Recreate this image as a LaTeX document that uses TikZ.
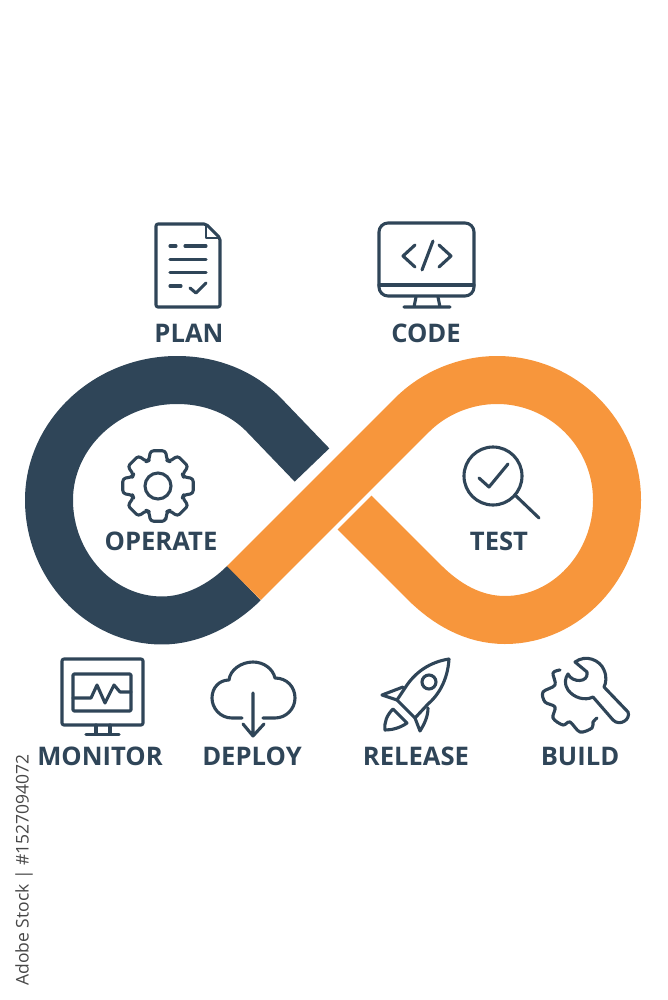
\documentclass[tikz,border=0pt]{standalone}
\usepackage{fontspec}
\setmainfont{Open Sans}
\usetikzlibrary{positioning}
\definecolor{navy}{HTML}{2F4558}
\definecolor{amber}{HTML}{F7963C}
\tikzset{
  band/.style={line width=48pt, line cap=butt, line join=round},
  icon/.style={draw=navy, line width=3.1pt, line cap=round, line join=round},
  thinicon/.style={icon, line width=2.6pt},
  lbl/.style={text=navy, font=\fontsize{25.6}{26}\selectfont\bfseries, inner sep=0pt},
  credit/.style={text=black!72, font=\fontsize{17.5}{18}\selectfont, rotate=90, inner sep=0pt}
}
\begin{document}
\begin{tikzpicture}[x=1pt, y=-1pt]
    \useasboundingbox (0,0) rectangle (667,1000);

    \draw[band, navy] (312,465) -- (263,414) .. controls (242,393) and (212,380) .. (177,380)
        .. controls (107,380) and (49,434) .. (49,500)
        .. controls (49,566) and (100,620.5) .. (162,620.5)
        .. controls (192,620.5) and (222,605) .. (244,583);
    \draw[band, amber] (244,583) -- (412,415) .. controls (434,393) and (465,380) .. (497,380)
        .. controls (563,380) and (617,434) .. (617,500)
        .. controls (617,566) and (566,620) .. (505,620)
        .. controls (473,620) and (446,604) .. (424,582) -- (354.5,512.5);

    % plan
    \draw[icon, rounded corners=2pt] (206,224) -- (156,224) -- (156,307) -- (220,307) -- (220,238) -- cycle;
    \draw[thinicon] (206,225) -- (206,238) -- (219,238);
    \draw[icon] (170,246) -- (176,246) (185,246) -- (206,246);
    \draw[icon] (170,259.5) -- (206,259.5) (170,272.5) -- (206,272.5) (170,286) -- (181,286);
    \draw[icon] (190,288) -- (196,293) -- (206,283);
    \node[lbl] (plan) at (189,333.5) {PLAN};

    % code
    \draw[icon] (379,285) -- (474,285);
    \draw[icon, rounded corners=9pt] (379,223) rectangle (474,296);
    \draw[icon] (416,297) -- (414,307) (438,297) -- (440,307) (404,307) -- (450,307);
    \draw[icon] (415,245) -- (403,256) -- (415,267);
    \draw[icon] (433,241) -- (422,270);
    \draw[icon] (439,245) -- (451,256) -- (439,267);
    \node[lbl] (code) at (426,333.5) {CODE};

    % operate
    \begin{scope}[shift={(158,486)}]
        \draw[icon, rounded corners=3pt] (78:36)
            \foreach \a in {90,135,...,405} { -- (\a-12:36) -- (\a+12:36) -- (\a+20:27) -- (\a+25:27) } -- cycle;
        \draw[icon] (0,0) circle (13);
    \end{scope}
    \node[lbl] (operate) at (161,541.5) {OPERATE};

    % test
    \draw[icon] (493,476) circle (29);
    \draw[icon] (515,495) -- (539,518);
    \draw[icon] (479,478) -- (489,487) -- (508,464);
    \node[lbl] (test) at (499,541.5) {TEST};

    % monitor
    \draw[icon, rounded corners=2pt] (62,659) rectangle (143,725);
    \draw[icon, rounded corners=1pt] (73,674) rectangle (131,711);
    \draw[icon] (73,698) -- (91,698) -- (97,685) -- (105,703) -- (114,685) -- (120,692) -- (131,692);
    \draw[icon] (96,725) -- (96,734) (110,725) -- (110,734) (86,734.5) -- (119,734.5);
    \node[lbl] (monitor) at (100,756.5) {MONITOR};

    % deploy
    \draw[icon] (242,718) -- (232,718) .. controls (220,718) and (212,708) .. (212,698)
        .. controls (212,688) and (219,680) .. (229,680)
        .. controls (230,670) and (241,662) .. (253,662)
        .. controls (264,662) and (273,669) .. (275,678)
        .. controls (287,678) and (295,687) .. (295,698)
        .. controls (295,709) and (286,718) .. (275,718) -- (263,718);
    \draw[icon] (253,693) -- (253,736) (243,724) -- (253,736) -- (264,724);
    \node[lbl] (deploy) at (252,756.5) {DEPLOY};

    % release
    \draw[icon] (449,659) .. controls (430,662) and (415,672) .. (405,688)
        -- (397,700) -- (415,718) -- (428,704)
        .. controls (442,692) and (448,675) .. (449,659);
    \draw[icon] (429,682) circle (7);
    \draw[icon] (403,687) -- (382,695) -- (397,700);
    \draw[icon] (428,708) .. controls (428,718) and (423,726) .. (420,731) -- (415,718);
    \draw[icon] (393,709) -- (407,723) .. controls (400,728) and (392,730) .. (385,730)
        .. controls (384,722) and (387,715) .. (393,709);
    \node[lbl] (release) at (416,756.5) {RELEASE};

    % build
    \draw[icon] (575,662) .. controls (586,654) and (600,660) .. (604,670)
        .. controls (607,677) and (606,683) .. (604,687) -- (628,712)
        .. controls (631,719) and (620,727) .. (613,720) -- (593,697)
        .. controls (585,701) and (574,698) .. (568,690)
        .. controls (564,684) and (565,678) .. (568,674)
        .. controls (572,683) and (589,683) .. (587,672) -- cycle;
    \draw[icon] plot[smooth, tension=0.55] coordinates {(560,670) (553,673) (555,685) (543,692) (545,702)
        (555,707) (553,718) (563,725) (570,722) (580,732) (592,728) (593,722) (597,718)};
    \node[lbl] (build) at (580,756.5) {BUILD};

    \node[credit] (stock) at (24,870) {Adobe Stock | \#1527094072};
\end{tikzpicture}
\end{document}
